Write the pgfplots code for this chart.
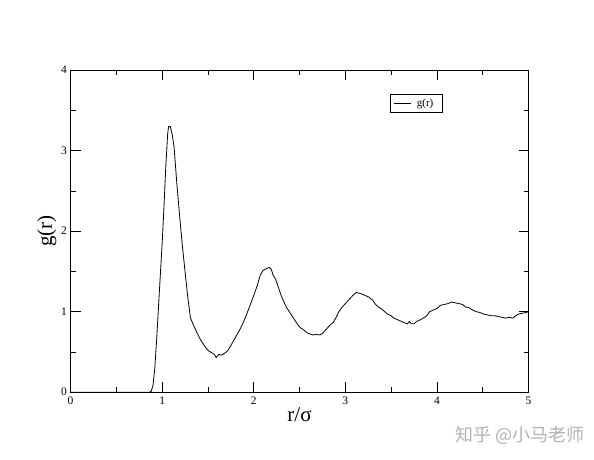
\documentclass[border=0pt]{standalone}
\usepackage{pgfplots}
\pgfplotsset{compat=1.18}
\usepackage{fontspec}
\setmainfont{Liberation Serif}
\newfontfamily\cjk{Noto Sans CJK SC}
\begin{document}
\begin{tikzpicture}[x=1pt,y=1pt]
\useasboundingbox (0,0) rectangle (594,459);
\begin{axis}[
  at={(77,83)}, anchor=south west,
  scale only axis, width=458pt, height=322pt,
  xmin=0, xmax=5, ymin=0, ymax=4,
  xtick={0,1,2,3,4,5}, ytick={0,1,2,3,4},
  minor x tick num=1, minor y tick num=1,
  tick align=inside, tick pos=both,
  major tick length=10pt, minor tick length=5pt,
  every tick/.style={black, line width=0.8pt},
  axis line style={line width=1pt},
  tick label style={font=\fontsize{11.5}{13}\selectfont},
  /pgf/number format/assume math mode=true,
  xticklabel style={yshift=-1pt},
  xlabel={r/σ}, ylabel={g(r)},
  label style={font=\fontsize{21}{24}\selectfont},
  xlabel style={yshift=4pt},
  ylabel style={yshift=-2pt},
  legend style={at={(0.697,0.925)}, anchor=north west, font=\fontsize{11}{13}\selectfont, draw=black, line width=0.6pt, inner xsep=4pt, inner ysep=2.5pt, nodes={inner xsep=5pt}},
  legend image code/.code={\draw[#1] (0pt,0pt) -- (17pt,0pt);},
  legend cell align=left,
]
\addplot[black, line width=0.8pt] coordinates {
(0,0) (0.86,0) (0.88,0.01) (0.90,0.08) (0.92,0.30) (0.94,0.65) (0.96,1.05) (0.98,1.45) (1.00,1.84)
(1.02,2.30) (1.04,2.80) (1.06,3.20) (1.07,3.30) (1.09,3.30) (1.11,3.20) (1.13,3.05) (1.16,2.60)
(1.19,2.20) (1.22,1.83) (1.25,1.50) (1.28,1.18) (1.31,0.92) (1.34,0.84) (1.38,0.74) (1.42,0.65)
(1.46,0.58) (1.50,0.52) (1.54,0.49) (1.57,0.47) (1.59,0.43) (1.62,0.47) (1.65,0.46) (1.69,0.49)
(1.72,0.52) (1.76,0.60) (1.80,0.68) (1.84,0.76) (1.88,0.85) (1.92,0.96) (1.96,1.08) (2.00,1.20)
(2.04,1.33) (2.07,1.45) (2.10,1.51) (2.13,1.53) (2.17,1.55) (2.19,1.53) (2.21,1.46) (2.24,1.40)
(2.27,1.30) (2.30,1.20) (2.33,1.12) (2.36,1.05) (2.40,0.98) (2.44,0.91) (2.48,0.84) (2.51,0.80)
(2.55,0.77) (2.58,0.74) (2.62,0.72) (2.65,0.71) (2.68,0.72) (2.72,0.71) (2.75,0.73) (2.79,0.78)
(2.83,0.83) (2.87,0.87) (2.90,0.93) (2.93,1.00) (2.96,1.05) (3.00,1.10) (3.04,1.15) (3.08,1.20)
(3.12,1.24) (3.15,1.23) (3.18,1.22) (3.22,1.20) (3.26,1.18) (3.30,1.14) (3.33,1.09) (3.36,1.06)
(3.40,1.03) (3.43,1.00) (3.46,0.97) (3.50,0.95) (3.53,0.92) (3.57,0.90) (3.61,0.88) (3.65,0.86)
(3.68,0.85) (3.70,0.88) (3.72,0.85) (3.75,0.85) (3.78,0.88) (3.82,0.90) (3.85,0.92) (3.89,0.95)
(3.92,1.00) (3.96,1.02) (4.00,1.04) (4.04,1.08) (4.08,1.09) (4.12,1.10) (4.16,1.12) (4.20,1.11)
(4.24,1.10) (4.28,1.09) (4.31,1.06) (4.35,1.05) (4.39,1.02) (4.43,1.00) (4.47,0.99) (4.51,0.97)
(4.55,0.96) (4.59,0.95) (4.63,0.95) (4.67,0.94) (4.71,0.93) (4.75,0.92) (4.79,0.93) (4.83,0.92)
(4.86,0.95) (4.89,0.97) (4.93,0.98) (4.97,0.99) (5.00,1.00)
};
\addlegendentry{g(r)}
\end{axis}
\node[anchor=east, text=black!30, font=\cjk\fontsize{18}{20}\selectfont] at (588,24) {知乎 @小马老师};
\end{tikzpicture}
\end{document}
